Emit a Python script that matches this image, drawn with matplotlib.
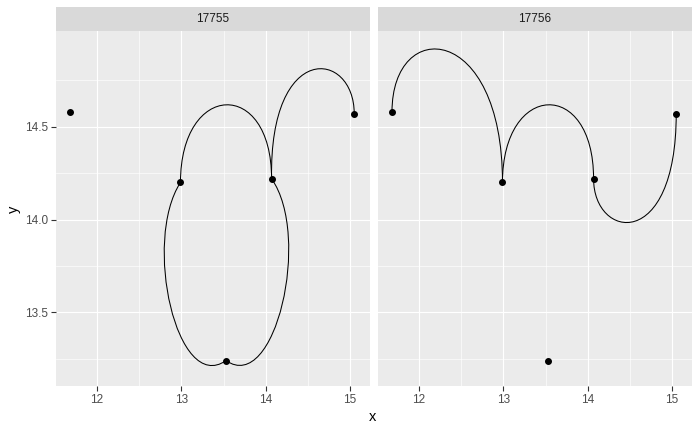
import numpy as np
import matplotlib
matplotlib.use("Agg")
import matplotlib.pyplot as plt
from matplotlib.path import Path
from matplotlib.patches import PathPatch
from matplotlib.transforms import IdentityTransform

plt.rcParams["font.family"] = ["Liberation Sans", "DejaVu Sans"]

# points (same five in every panel)
pt_x = [11.68, 12.99, 14.07, 15.05, 13.53]
pt_y = [14.58, 14.20, 14.22, 14.57, 13.24]

panels = ["17755", "17756"]
# curves as (from point, to point) per panel
seg_from = {"17755": [1, 2, 4, 4], "17756": [0, 1, 2]}
seg_to = {"17755": [2, 3, 1, 2], "17756": [1, 2, 3]}
# curve shape: (angle at start, arm, angle at end, arm) in screen degrees / pixels
seg_shape = {
    "17755": [(90, 101, 90, 101), (91, 139, 90, 64), (215, 60, 237, 70), (325, 60, 305, 70)],
    "17756": [(90, 96, 90, 160), (90, 101, 90, 101), (-90, 61, -90, 139)],
}

x_ticks = [12, 13, 14, 15]
x_minor = [12.5, 13.5, 14.5]
y_ticks = [13.5, 14.0, 14.5]
y_minor = [13.25, 13.75, 14.25, 14.75]

BG = "#EBEBEB"
STRIP = "#D9D9D9"
TICK = "#4D4D4D"


def curve(ax, p0, p1, shape, **kw):
    # cubic bezier drawn in screen space between two data points
    a0, r0, a1, r1 = shape
    P0 = ax.transData.transform(p0)
    P3 = ax.transData.transform(p1)
    P1 = P0 + r0 * np.array([np.cos(np.radians(a0)), np.sin(np.radians(a0))])
    P2 = P3 + r1 * np.array([np.cos(np.radians(a1)), np.sin(np.radians(a1))])
    path = Path([P0, P1, P2, P3], [Path.MOVETO, Path.CURVE4, Path.CURVE4, Path.CURVE4])
    patch = PathPatch(path, transform=IdentityTransform(), fill=False, **kw)
    ax.add_artist(patch)


fig = plt.figure(figsize=(7, 4.32), dpi=100)
W, H = 700, 432
lefts = [56, 378]
pw = 314

for i, name in enumerate(panels):
    ax = fig.add_axes([lefts[i] / W, (H - 386) / H, pw / W, 355 / H])
    ax.set_facecolor(BG)
    ax.set_xlim(11.514, 15.237)
    ax.set_ylim(13.103, 15.016)
    ax.set_xticks(x_ticks)
    ax.set_xticklabels([str(v) for v in x_ticks])
    ax.set_xticks(x_minor, minor=True)
    ax.set_yticks(y_ticks)
    ax.set_yticklabels(["%.1f" % v for v in y_ticks])
    ax.set_yticks(y_minor, minor=True)
    ax.grid(which="major", color="white", lw=0.85)
    ax.grid(which="minor", color="white", lw=0.45)
    ax.set_axisbelow(True)
    for s in ax.spines.values():
        s.set_visible(False)
    ax.tick_params(which="major", length=3.5, width=0.8, color="#333333",
                   labelsize=8.5, labelcolor=TICK, pad=2)
    ax.tick_params(which="minor", length=0)
    if i > 0:
        ax.tick_params(axis="y", which="major", length=0, labelleft=False)

    for j, k in enumerate(seg_from[name]):
        t = seg_to[name][j]
        curve(ax, (pt_x[k], pt_y[k]), (pt_x[t], pt_y[t]), seg_shape[name][j],
              color="black", lw=0.75, zorder=3)
    ax.plot(pt_x, pt_y, "o", color="black", ms=4, zorder=4)

    sx = fig.add_axes([lefts[i] / W, (H - 31) / H, pw / W, 24 / H])
    sx.set_facecolor(STRIP)
    sx.set_xticks([])
    sx.set_yticks([])
    for s in sx.spines.values():
        s.set_visible(False)
    sx.text(0.5, 0.5, name, ha="center", va="center", fontsize=8.5, color="#1A1A1A")

fig.text(373 / W, 1 - 417 / H, "x", ha="center", va="center", fontsize=10.5)
fig.text(14 / W, 1 - 209 / H, "y", ha="center", va="center", rotation=90, fontsize=10.5)

fig.savefig("out.png", dpi=100)
